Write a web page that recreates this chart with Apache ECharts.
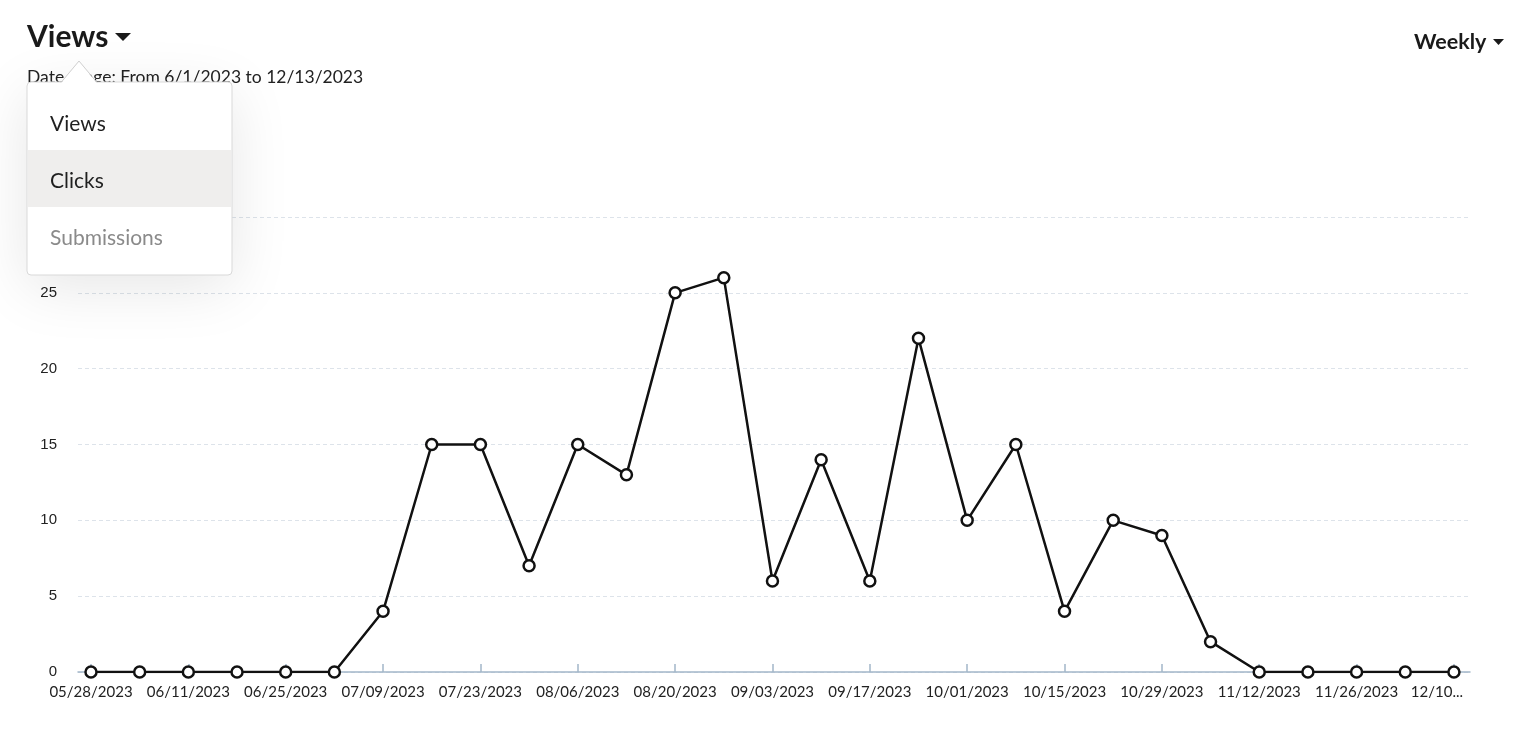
<!DOCTYPE html>
<html>
<head>
<meta charset="utf-8">
<script src="https://cdn.jsdelivr.net/npm/echarts@6/dist/echarts.min.js"></script>
<style>
  html, body { margin: 0; padding: 0; background: #fff; }
  #chart { width: 1533px; height: 752px; }
</style>
</head>
<body>
<div id="chart"></div>
<script>
// weekly buckets
const weeks = [
  "05/28/2023", "06/04/2023", "06/11/2023", "06/18/2023", "06/25/2023",
  "07/02/2023", "07/09/2023", "07/16/2023", "07/23/2023", "07/30/2023",
  "08/06/2023", "08/13/2023", "08/20/2023", "08/27/2023", "09/03/2023",
  "09/10/2023", "09/17/2023", "09/24/2023", "10/01/2023", "10/08/2023",
  "10/15/2023", "10/22/2023", "10/29/2023", "11/05/2023", "11/12/2023",
  "11/19/2023", "11/26/2023", "12/03/2023", "12/10/2023"
];
const clicks = [
  0, 0, 0, 0, 0, 0, 4, 15, 15, 7, 15, 13, 25, 26, 6,
  14, 6, 22, 10, 15, 4, 10, 9, 2, 0, 0, 0, 0, 0
];
const labelWeeks = [0, 2, 4, 6, 8, 10, 12, 14, 16, 18, 20, 22, 24, 26, 28];
const yTicks = [0, 5, 10, 15, 20, 25, 30];
const menuItems = ["Views", "Clicks", "Submissions"];

const uiFont = "Lato, 'Open Sans', sans-serif";
const chart = echarts.init(document.getElementById("chart"));

const menuX = 27, menuY = 82, menuW = 205, menuH = 193, rowH = 57;
const menuGraphics = [
  {
    type: "rect",
    z: 100,
    shape: { x: menuX, y: menuY, width: menuW, height: menuH, r: 4 },
    style: {
      fill: "#fff",
      stroke: "#d9d9d9",
      lineWidth: 1,
      shadowBlur: 60,
      shadowColor: "rgba(0,0,0,0.10)",
      shadowOffsetY: 12,
    },
  },
  {
    type: "rect",
    z: 101,
    shape: { x: menuX + 1, y: menuY + 68, width: menuW - 2, height: rowH },
    style: { fill: "#efeeed" },
  },
  {
    // little pointer on top of the menu
    type: "polygon",
    z: 102,
    shape: { points: [[61, menuY + 1], [79, 61], [97, menuY + 1]] },
    style: { fill: "#fff" },
  },
  {
    type: "polyline",
    z: 103,
    shape: { points: [[61, menuY + 0.5], [79, 61], [97, menuY + 0.5]] },
    style: { fill: null, stroke: "#d0d0d0", lineWidth: 1 },
  },
];
menuItems.forEach((name, i) => {
  menuGraphics.push({
    type: "text",
    z: 104,
    x: 50,
    y: menuY + 42 + i * rowH,
    style: {
      text: name,
      font: "21px " + uiFont,
      fill: i === 2 ? "#8a8a8a" : "#1f1f1f",
      verticalAlign: "middle",
    },
  });
});

chart.setOption({
  backgroundColor: "#fff",
  animation: false,
  title: {
    text: "Views",
    subtext: "Date range: From 6/1/2023 to 12/13/2023",
    left: 22,
    top: 17,
    itemGap: 16,
    textStyle: { fontFamily: uiFont, fontSize: 30, fontWeight: "bold", color: "#1a1a1a" },
    subtextStyle: { fontFamily: uiFont, fontSize: 17.5, color: "#222" },
  },
  graphic: [
    {
      type: "polygon",
      z: 50,
      shape: { points: [[115, 33], [131, 33], [123, 41]] },
      style: { fill: "#1a1a1a" },
    },
    {
      type: "text",
      z: 50,
      x: 1414,
      y: 42,
      style: {
        text: "Weekly",
        font: "bold 21.5px " + uiFont,
        fill: "#1a1a1a",
        verticalAlign: "middle",
      },
    },
    {
      type: "polygon",
      z: 50,
      shape: { points: [[1493, 39], [1504, 39], [1498.5, 45]] },
      style: { fill: "#1a1a1a" },
    },
    ...menuGraphics,
  ],
  grid: { left: 78, right: 63, top: 217, bottom: 80 },
  xAxis: {
    type: "value",
    min: -0.267,
    max: 28.33,
    axisLine: { show: true, lineStyle: { color: "#a3b6c9", width: 1.5 } },
    axisTick: {
      show: true,
      inside: true,
      length: 8,
      customValues: labelWeeks,
      lineStyle: { color: "#a3b6c9", width: 1.5 },
    },
    splitLine: { show: false },
    axisLabel: {
      customValues: labelWeeks,
      margin: 13,
      fontFamily: uiFont,
      fontSize: 15,
      color: "#222",
      formatter: (v) => {
        const i = Math.round(v);
        const s = weeks[i] || "";
        // last label is cut off at the chart edge
        return i === weeks.length - 1 ? "{cut|" + s.slice(0, 5) + "...}" : s;
      },
      rich: {
        cut: { fontFamily: uiFont, fontSize: 15, color: "#222", padding: [0, 34, 0, 0] },
      },
    },
  },
  yAxis: {
    type: "value",
    min: yTicks[0],
    max: yTicks[yTicks.length - 1],
    interval: 5,
    axisLine: { show: false },
    axisTick: { show: false },
    axisLabel: {
      margin: 21,
      fontFamily: "'Liberation Sans', Arial, sans-serif",
      fontSize: 15,
      color: "#222",
    },
    splitLine: { lineStyle: { color: "#dde3ea", type: [4, 3], width: 1 } },
  },
  series: [
    {
      type: "line",
      data: clicks.map((v, i) => [i, v]),
      symbol: "circle",
      symbolSize: 11,
      lineStyle: { color: "#111", width: 2.5 },
      itemStyle: { color: "#fff", borderColor: "#111", borderWidth: 2.5 },
      z: 5,
    },
  ],
});

window.addEventListener("resize", () => chart.resize());
</script>
</body>
</html>
